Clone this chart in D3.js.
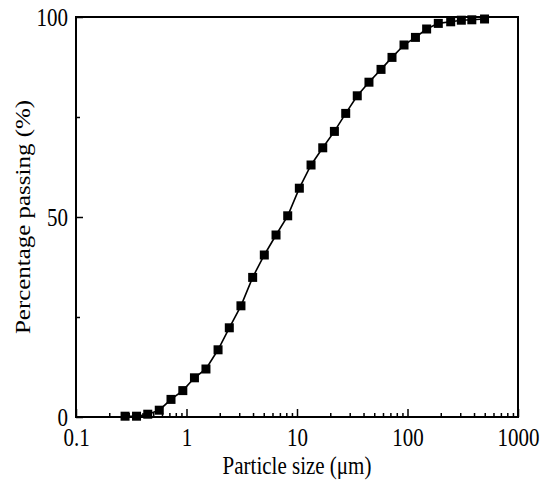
<!DOCTYPE html>
<html>
<head>
<meta charset="utf-8">
<script src="https://cdn.jsdelivr.net/npm/d3@7"></script>
<style>
  body { margin: 0; background: #fff; }
  text { font-family: "Liberation Serif", "Times New Roman", serif; fill: #000; }
</style>
</head>
<body>
<div id="chart"></div>
<script>
// particle size distribution
const sizes = [0.278, 0.353, 0.446, 0.567, 0.724, 0.926, 1.18, 1.50, 1.93, 2.44, 3.11,
  3.97, 5.06, 6.46, 8.24, 10.5, 13.4, 17.1, 21.8, 27.6, 35.1, 44.8, 57.6, 72.4,
  93.0, 118, 149, 190, 246, 307, 382, 498];
const passing = [0.2, 0.2, 0.7, 1.7, 4.4, 6.6, 9.8, 12.0, 16.8, 22.3, 27.8,
  34.9, 40.5, 45.5, 50.3, 57.2, 63.0, 67.3, 71.4, 75.9, 80.3, 83.7, 86.9, 89.9,
  93.0, 94.9, 97.0, 98.4, 98.8, 99.2, 99.3, 99.5];

const xMajor = [0.1, 1, 10, 100, 1000];
const xLabels = ["0.1", "1", "10", "100", "1000"];
const yMajor = [0, 50, 100];
const yLabels = ["0", "50", "100"];
const yMinor = [25, 75];

const W = 550, H = 501;
const plotL = 76, plotR = 518, plotT = 17, plotB = 417;
const stretch = 1.2; // the picture text is a bit taller than wide

const svg = d3.select("#chart").append("svg")
  .attr("width", W).attr("height", H);
svg.append("rect").attr("width", W).attr("height", H).attr("fill", "#fff");

const x = d3.scaleLog().domain([0.1, 1000]).range([plotL, plotR]);
const y = d3.scaleLinear().domain([0, 100]).range([plotB, plotT]);

// minor ticks 2..9 per decade
const xMinor = [];
for (let d = 0.1; d < 1000; d *= 10) {
  for (let k = 2; k <= 9; k++) xMinor.push(+(d * k).toPrecision(3));
}

// x axis, ticks pointing in
svg.append("g").attr("transform", `translate(0,${plotB})`)
  .call(d3.axisBottom(x).tickValues(xMinor).tickSize(-4).tickFormat(""))
  .call(g => g.select(".domain").remove())
  .call(g => g.selectAll("line").attr("stroke-width", 1.5));

const xg = svg.append("g").attr("transform", `translate(0,${plotB})`)
  .call(d3.axisBottom(x).tickValues(xMajor).tickSize(-8).tickSizeOuter(0)
    .tickFormat((d, i) => xLabels[i]));
xg.select(".domain").remove();
xg.selectAll("line").attr("stroke-width", 1.5);
xg.selectAll("text")
  .attr("y", null).attr("dy", null)
  .attr("transform", `translate(0,29) scale(1,${stretch})`)
  .style("font-size", "21px").style("font-family", "'Liberation Serif', serif");

// y axis
svg.append("g").attr("transform", `translate(${plotL},0)`)
  .call(d3.axisLeft(y).tickValues(yMinor).tickSize(-4).tickFormat(""))
  .call(g => g.select(".domain").remove())
  .call(g => g.selectAll("line").attr("stroke-width", 1.5));

const yg = svg.append("g").attr("transform", `translate(${plotL},0)`)
  .call(d3.axisLeft(y).tickValues(yMajor).tickSize(-7).tickSizeOuter(0)
    .tickFormat((d, i) => yLabels[i]));
yg.select(".domain").remove();
yg.selectAll("line").attr("stroke-width", 1.5);
yg.selectAll("text")
  .attr("x", null).attr("dy", null)
  .attr("transform", `translate(-8,8) scale(1,${stretch})`)
  .style("font-size", "21px").style("font-family", "'Liberation Serif', serif");

// frame
svg.append("rect")
  .attr("x", plotL).attr("y", plotT)
  .attr("width", plotR - plotL).attr("height", plotB - plotT)
  .attr("fill", "none").attr("stroke", "#000").attr("stroke-width", 2);

// curve and markers
const line = d3.line().x((d, i) => x(sizes[i])).y(d => y(d));
svg.append("path").datum(passing)
  .attr("d", line).attr("fill", "none")
  .attr("stroke", "#000").attr("stroke-width", 1.6);

const ms = 9;
svg.append("g").selectAll("rect").data(passing).join("rect")
  .attr("x", (d, i) => x(sizes[i]) - ms / 2)
  .attr("y", d => y(d) - ms / 2)
  .attr("width", ms).attr("height", ms)
  .attr("fill", "#000");

// titles
svg.append("text")
  .attr("transform", `translate(${(plotL + plotR) / 2},474) scale(1,${stretch})`)
  .attr("text-anchor", "middle").style("font-size", "21px")
  .text("Particle size (μm)");

svg.append("text")
  .attr("transform", `translate(30,217) rotate(-90) scale(${stretch * 0.99},1)`)
  .attr("text-anchor", "middle").style("font-size", "21px")
  .text("Percentage passing (%)");
</script>
</body>
</html>
